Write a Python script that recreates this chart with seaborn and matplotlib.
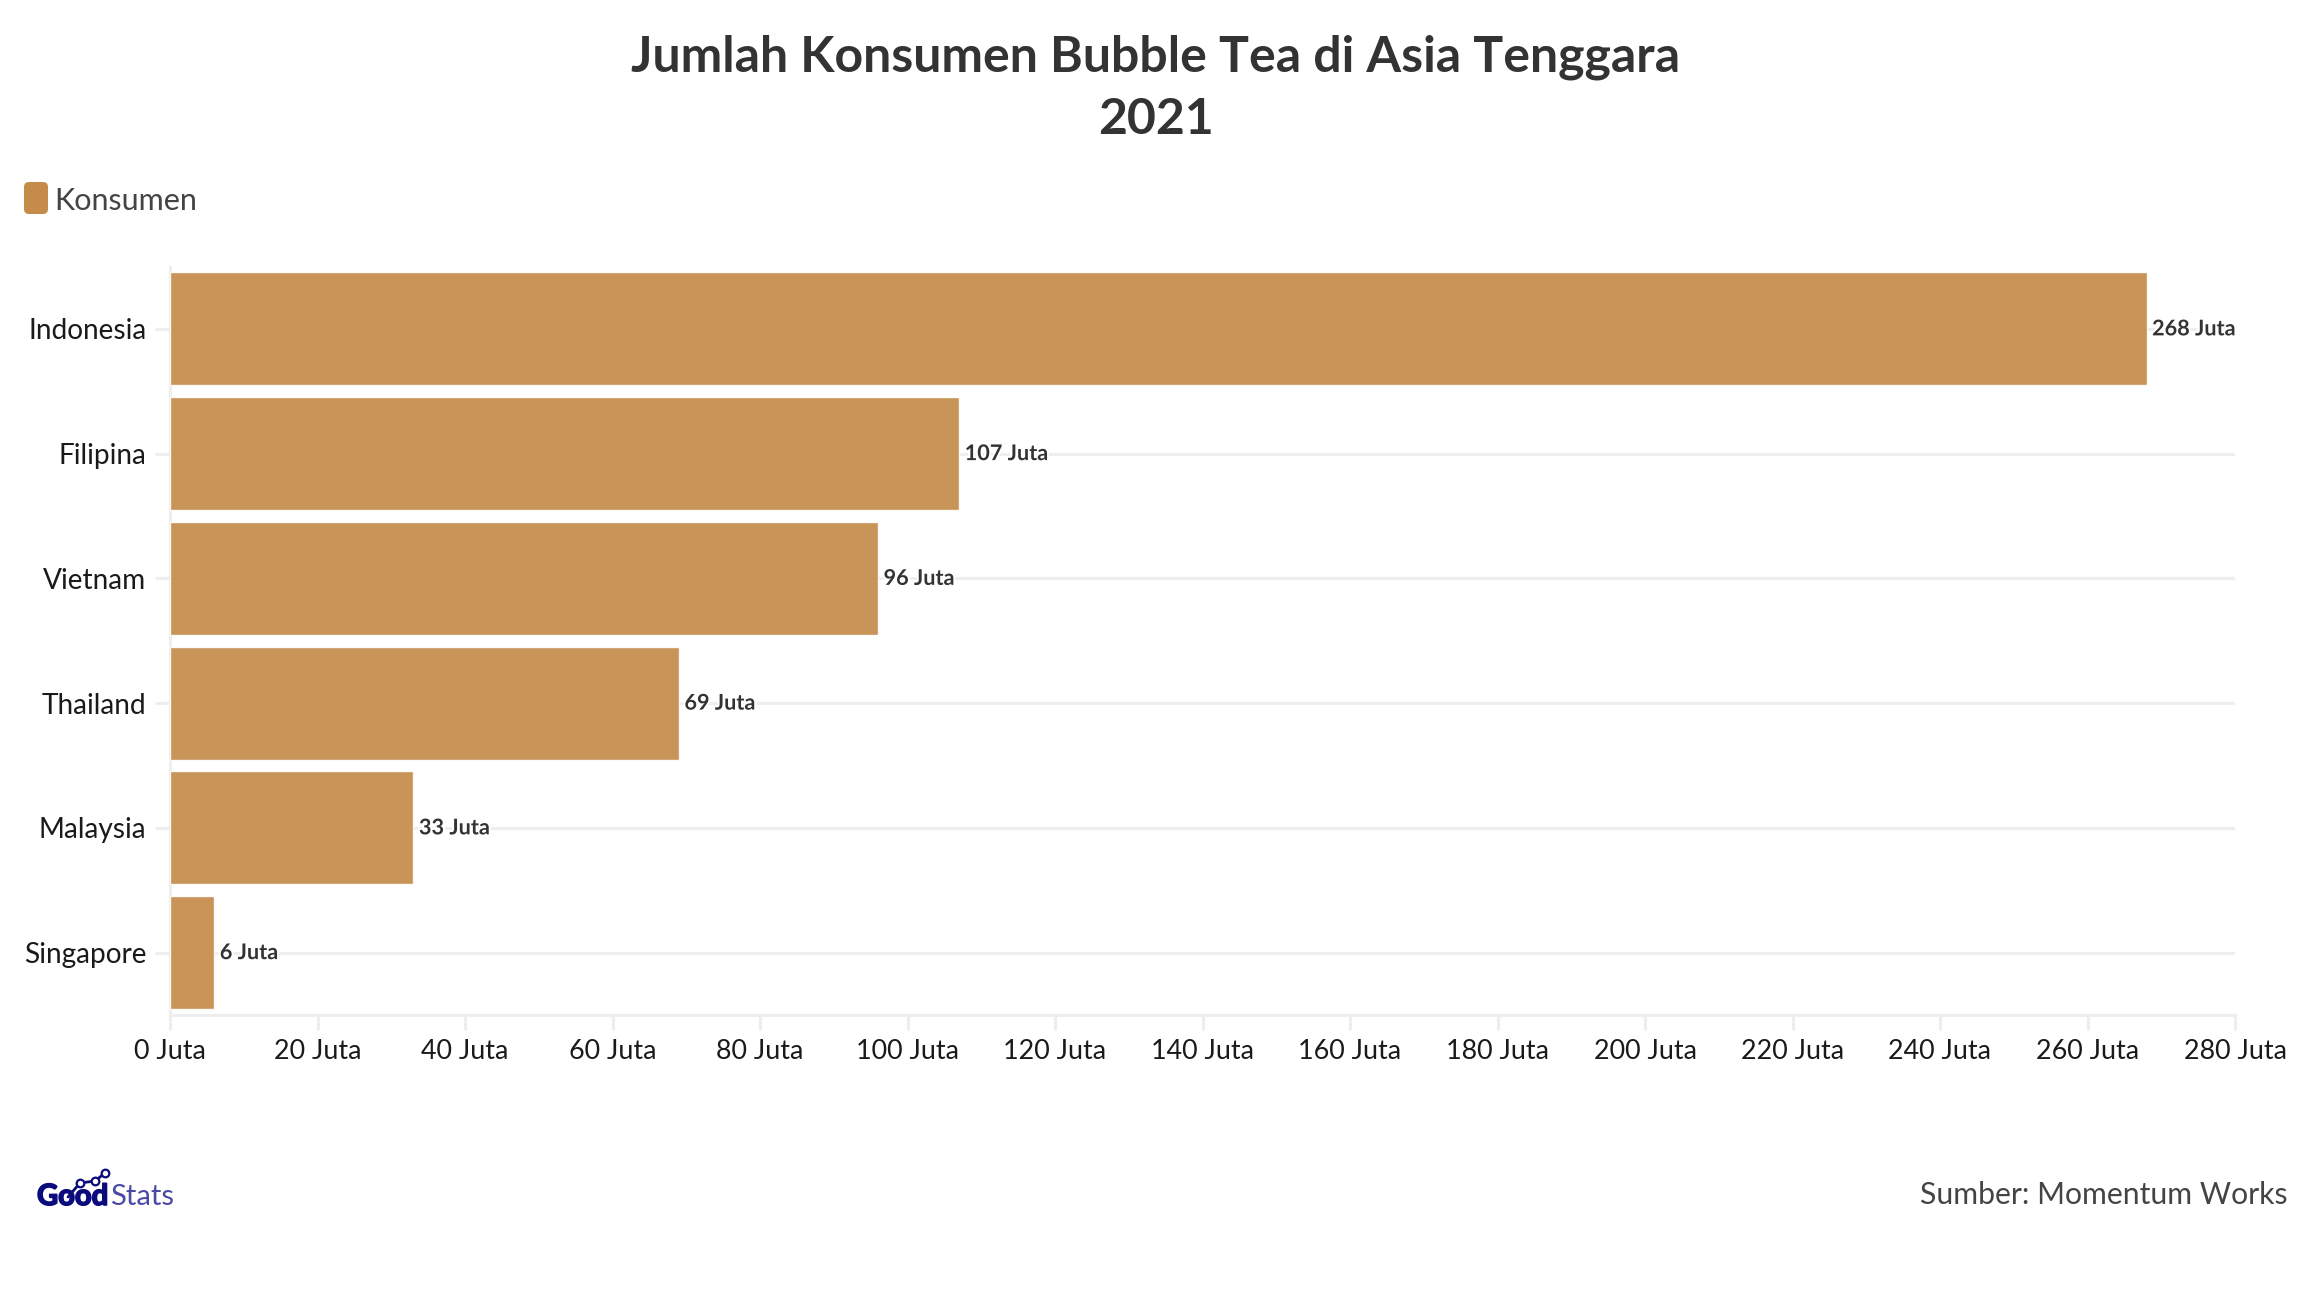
import matplotlib.pyplot as plt
from matplotlib.patches import FancyBboxPatch
from matplotlib.transforms import Affine2D
import matplotlib.patheffects as pe
import seaborn as sns
import pandas as pd

countries = ['Indonesia', 'Filipina', 'Vietnam', 'Thailand', 'Malaysia', 'Singapore']
consumers = [268, 107, 96, 69, 33, 6]
value_labels = ['268 Juta', '107 Juta', '96 Juta', '69 Juta', '33 Juta', '6 Juta']
x_ticks = list(range(0, 281, 20))
x_tick_labels = [f'{t} Juta' for t in x_ticks]
series_name = 'Konsumen'
title_lines = ['Jumlah Konsumen Bubble Tea di Asia Tenggara', '2021']
source = 'Sumber: Momentum Works'

W, H = 2312, 1300
BAR = '#C48B4A'
GRID = '#EEEEEE'
FONT = 'Lato'

if __name__ == '__main__':
    sns.set_theme(style='white')
    plt.rcParams['font.family'] = [FONT, 'DejaVu Sans']

    fig = plt.figure(figsize=(W / 100, H / 100), dpi=100)
    # pixel coordinates, y going down, same as the reference
    px = Affine2D().scale(1, -1).translate(0, H)
    ax = fig.add_axes([170 / W, 1 - 1015 / H, (2235 - 170) / W, (1015 - 266.5) / H])

    df = pd.DataFrame({'Country': countries, series_name: consumers})
    sns.barplot(data=df, y='Country', x=series_name, color=BAR, saturation=1, alpha=0.92,
                width=0.905, ax=ax, zorder=3)
    ax.set_xlim(0, 280)
    ax.set_xticks(x_ticks, x_tick_labels)
    ax.set_xlabel('')
    ax.set_ylabel('')
    ax.yaxis.grid(True, color=GRID, linewidth=2.2, zorder=1)
    ax.xaxis.grid(False)
    sns.despine(ax=ax, top=True, right=True)
    for side in ['left', 'bottom']:
        ax.spines[side].set_color(GRID)
        ax.spines[side].set_linewidth(2.2)
    ax.tick_params(axis='x', bottom=True, length=11, width=2.2, color=GRID, labelsize=19.4,
                   labelcolor='#1a1a1a', pad=6)
    ax.tick_params(axis='y', left=True, length=11, width=2.2, color=GRID, labelsize=20.2,
                   labelcolor='#1a1a1a', pad=6)

    labels = ax.bar_label(ax.containers[0], labels=value_labels, padding=4, fontsize=15.6,
                          fontweight='bold', color='#333333', zorder=4)
    for t in labels:
        t.set_path_effects([pe.withStroke(linewidth=3, foreground='white')])

    fig.text(1156, 57, title_lines[0], transform=px, ha='center', va='center', fontsize=36,
             fontweight='bold', color='#333333')
    fig.text(1156, 120, title_lines[1], transform=px, ha='center', va='center', fontsize=36,
             fontweight='bold', color='#333333')

    # legend
    fig.add_artist(FancyBboxPatch((27, 185), 18, 26, boxstyle='round,pad=3,rounding_size=5',
                                  transform=px, facecolor=BAR, edgecolor='none'))
    fig.text(54, 201, series_name, transform=px, ha='left', va='center', fontsize=22,
             color='#444444')

    # source
    fig.text(2288, 1195, source, transform=px, ha='right', va='center', fontsize=21.7,
             color='#444444')

    # logo
    navy = '#0B0B7E'
    good = fig.text(37, 1205, 'Good', transform=px, ha='left', va='baseline', fontsize=21,
                    fontweight='bold', color=navy)
    good.set_path_effects([pe.withStroke(linewidth=1.2, foreground=navy)])
    fig.text(110, 1205, 'Stats', transform=px, ha='left', va='baseline', fontsize=21,
             fontweight='normal', color='#4A4AA6')
    fig.add_artist(plt.Line2D([68, 80, 95, 105], [1197, 1183, 1181, 1173], transform=px,
                              color=navy, linewidth=2, marker='o', markersize=5.5,
                              markerfacecolor='white', markeredgecolor=navy,
                              markeredgewidth=1.6, markevery=[1, 2, 3]))

    fig.savefig('out.png', dpi=100, facecolor='white')
